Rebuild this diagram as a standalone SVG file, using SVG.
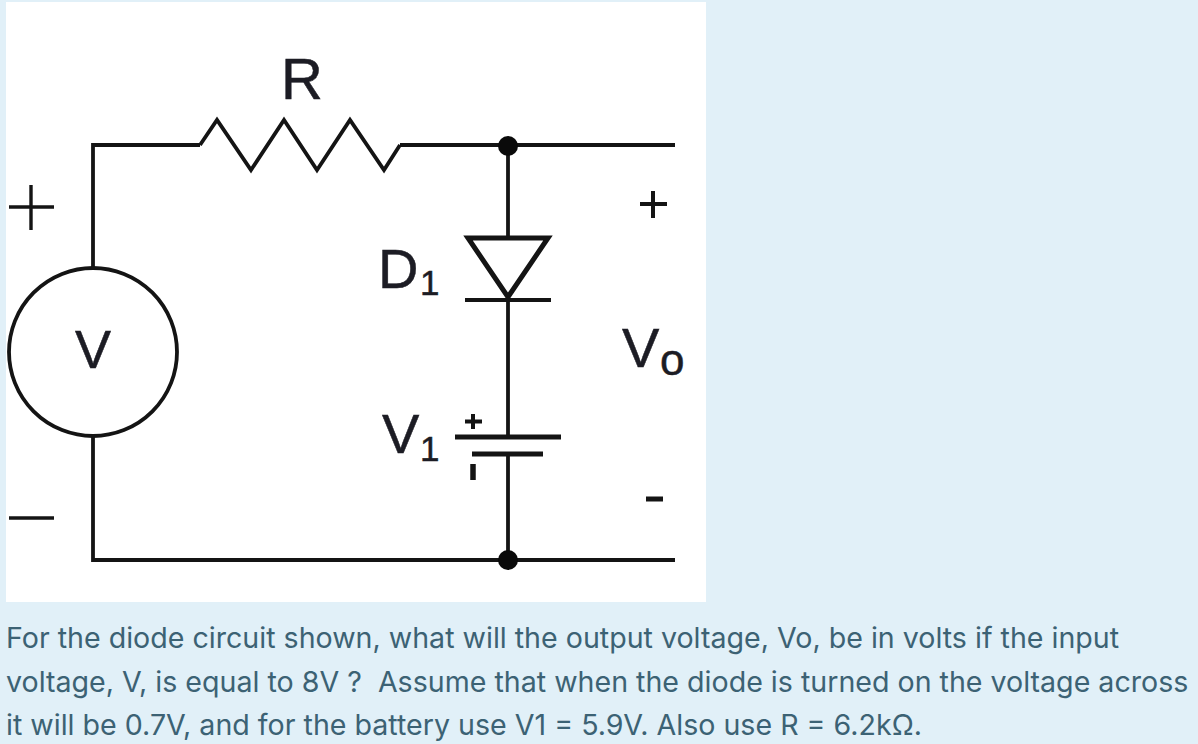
<svg xmlns="http://www.w3.org/2000/svg" width="1198" height="744" viewBox="0 0 1198 744">
<style>
.w{fill:none;stroke:#141414;stroke-width:3.8;stroke-linejoin:miter}
.l{font-family:"Liberation Sans",Arial,sans-serif;fill:#1c1c24;stroke:#1c1c24;stroke-width:.5}
.t{font-family:"Inter","Roboto",sans-serif;font-size:28.6px;fill:#3c6274}
</style>
<rect width="1198" height="744" fill="#e1f0f8"/>
<rect x="6" y="2" width="700" height="600" fill="#fff"/>
<g id="connectors">
<path class="w" d="M93 268V145H200"/>
<path class="w" d="M400 145H675"/>
<path class="w" d="M508 146V238"/>
<path class="w" d="M508 300V437"/>
<path class="w" d="M508 454V560"/>
<path class="w" d="M93 436V560H675"/>
</g>
<g id="resistor"><path class="w" d="M200 145L217 120L251 170L284 120L317 170L350 120L384 170L400 145"/><text class="l" x="281" y="99" font-size="58">R</text></g>
<g id="source"><circle class="w" cx="93" cy="352" r="84"/><text class="l" x="93" y="368" font-size="54" text-anchor="middle">V</text>
<path class="w" d="M9 207H54M31 185V230" style="stroke-width:3.4"/><path class="w" d="M9 518H54" style="stroke-width:3.4"/></g>
<g id="diode"><path d="M468 238H548L508 297Z" fill="none" stroke="#141414" stroke-width="5"/><path class="w" d="M465 300H551"/><text class="l" x="378" y="288" font-size="56">D</text><text class="l" x="420" y="295" font-size="35">1</text></g>
<g id="battery"><path d="M455 437H561" fill="none" stroke="#141414" stroke-width="5"/><path d="M472 454H543" fill="none" stroke="#141414" stroke-width="5"/><path d="M465 421.500H482M473 414V429" fill="none" stroke="#141414" stroke-width="4"/><path d="M473 464V480" fill="none" stroke="#141414" stroke-width="5.500"/><text class="l" x="382" y="453" font-size="56">V</text><text class="l" x="420" y="461" font-size="35">1</text></g>
<g id="output"><path d="M640 204H667M653 191V218" fill="none" stroke="#141414" stroke-width="4"/><path d="M646 499H663" fill="none" stroke="#141414" stroke-width="5"/><text class="l" x="622" y="367" font-size="56">V</text><text class="l" x="660" y="375" font-size="44">o</text></g>
<g id="caption">
<text class="t" x="6" y="648">For the diode circuit shown, what will the output voltage, Vo, be in volts if the input</text>
<text class="t" x="6" y="692" xml:space="preserve">voltage, V, is equal to 8V ?  Assume that when the diode is turned on the voltage across</text>
<text class="t" x="6" y="735">it will be 0.7V, and for the battery use V1 = 5.9V. Also use R = 6.2kΩ.</text>
</g>
<g id="junctions"><circle cx="508" cy="146" r="10" fill="#0a0a0a"/><circle cx="508" cy="560" r="10" fill="#0a0a0a"/></g>
</svg>
